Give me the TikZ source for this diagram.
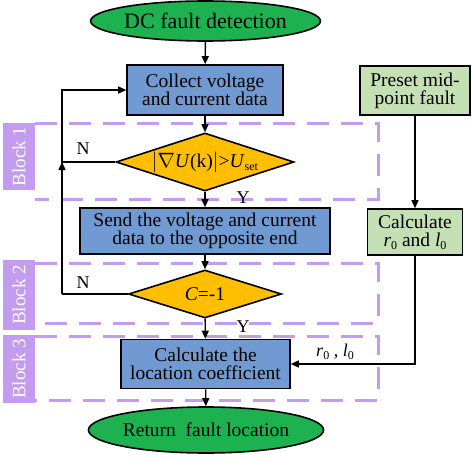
\documentclass[tikz,border=0pt]{standalone}
\usepackage{fontspec}
\setmainfont{Liberation Serif}
\usetikzlibrary{shapes.geometric,arrows.meta}
\definecolor{termgreen}{HTML}{1DB24F}
\definecolor{procblue}{HTML}{7199D2}
\definecolor{lightgreen}{HTML}{C5E0B4}
\definecolor{decorange}{HTML}{FFBF00}
\definecolor{blockpurple}{HTML}{C39BEF}
\newcommand{\lowidx}[1]{\raisebox{-3pt}{\fontsize{12}{12}\selectfont #1}}
\tikzset{
  base/.style={draw=black, line width=1.6pt, inner sep=0pt, align=center, font=\fontsize{19.5}{18}\selectfont},
  term/.style={base, ellipse, fill=termgreen},
  proc/.style={base, rectangle, fill=procblue},
  side/.style={base, rectangle, fill=lightgreen},
  dec/.style={base, diamond, fill=decorange},
  dectext/.style={inner sep=0pt, font=\fontsize{19.5}{18}\selectfont},
  conn/.style={line width=1.4pt, -{Triangle[length=8pt,width=7pt]}},
  plain/.style={line width=1.4pt},
  blockline/.style={blockpurple, line width=3pt, dash pattern=on 22pt off 12pt},
  blocklabel/.style={fill=blockpurple, text=white, rotate=90, inner sep=0pt, font=\fontsize{19}{19}\selectfont},
  lab/.style={font=\fontsize{18}{18}\selectfont, inner sep=0pt}
}
\begin{document}
\begin{tikzpicture}[x=1pt,y=-1pt]
\useasboundingbox (0,0) rectangle (474,460);
% block frames
\draw[blockline] (35,123) -- (378,123) -- (378,199) -- (35,199);
\draw[blockline] (35,263) -- (378,263) -- (378,323) -- (35,323);
\draw[blockline] (35,336) -- (378,336) -- (378,400) -- (35,400);
\node[blocklabel, minimum width=67pt, minimum height=32pt] (b1) at (19,156.5) {Block 1};
\node[blocklabel, minimum width=70pt, minimum height=32pt] (b2) at (19,295) {Block 2};
\node[blocklabel, minimum width=68pt, minimum height=32pt] (b3) at (19,369) {Block 3};
% nodes
\node[term, minimum width=176pt, minimum height=40pt, font=\fontsize{22}{20}\selectfont] (start) at (205.5,21) {DC fault detection};
\node[proc, minimum width=156pt, minimum height=50pt] (collect) at (205,90) {Collect voltage\\and current data};
\node[side, minimum width=110pt, minimum height=49pt] (preset) at (415,90.5) {Preset mid-\\point fault};
\node[dec, minimum width=178pt, minimum height=58pt] (d1) at (205,162) {};
\node[dectext] (d1t) at (d1.center) {$|\nabla$\textit{U}(k)$|$>\textit{U}\lowidx{set}};
\node[proc, minimum width=250pt, minimum height=46pt] (send) at (205,231) {Send the voltage and current\\data to the opposite end};
\node[side, minimum width=95pt, minimum height=46pt] (calc) at (415,232) {Calculate\\\textit{r}\lowidx{0} and \textit{l}\lowidx{0}};
\node[dec, minimum width=153pt, minimum height=48pt] (d2) at (205,294) {};
\node[dectext] (d2t) at (d2.center) {\textit{C}=-1};
\node[proc, minimum width=169pt, minimum height=49pt] (loc) at (205.5,364) {Calculate the\\location coefficient};
\node[term, minimum width=192pt, minimum height=46pt] (end) at (206,430) {Return\ \ fault location};
% connectors
\draw[conn] (start) -- (collect);
\draw[conn] (collect) -- (d1);
\draw[conn] (d1) -- (send);
\draw[conn] (send) -- (d2);
\draw[conn] (d2) -- (loc);
\draw[conn] (loc) -- (end);
\coordinate (loopA) at (62,162);
\coordinate (loopB) at (62,294);
\draw[conn] (d1.west) -- (loopA) |- (collect.west);
\draw[plain] (d2.west) -- (loopB);
\draw[conn] (loopB) -- (loopA);
\draw[conn] (preset) -- (calc);
\draw[conn] (calc.south) |- (loc.east);
% labels
\node[lab] (n1) at (83,149) {N};
\node[lab] (n2) at (83,283) {N};
\node[lab] (y1) at (243,198) {Y};
\node[lab] (y2) at (243,327) {Y};
\node[lab] (rl) at (335,352) {\textit{r}\lowidx{0} , \textit{l}\lowidx{0}};
\end{tikzpicture}
\end{document}
